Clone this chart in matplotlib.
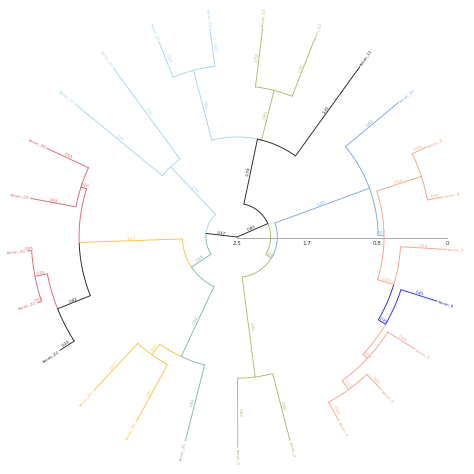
import numpy as np
import matplotlib
matplotlib.use("Agg")
import matplotlib.pyplot as plt

# ---- data ----
leaf_names = [f"taxon_{k}" for k in range(1, 26)]
leaf_colors = ["olive", "olive", "salmon", "salmon", "salmon", "darkblue", "salmon", "salmon", "salmon",
               "blue", "black", "olive", "olive", "lb", "lb", "lb", "lb", "red", "red", "red", "red",
               "black", "yellow", "yellow", "teal"]
# internal nodes: name -> (height, children, colour)
node_names = ["N34", "N345", "NZ", "NY", "N89", "NX", "N10", "N12", "NO", "N1415", "N1213", "NT", "NR",
              "N1617", "N1819", "N2021", "NB", "NYe", "N2324", "NT25", "NTeal", "NL"]
node_heights = [0.25, 0.38, 0.45, 0.55, 0.19, 0.75, 0.82, 0.82, 2.02, 0.45, 0.70, 1.31, 2.10,
                1.35, 0.55, 0.05, 0.20, 0.62, 0.77, 0.93, 1.85, 2.13]
node_children = [["taxon_3", "taxon_4"], ["taxon_5", "N34"], ["taxon_6", "N345"], ["taxon_7", "NZ"],
                 ["taxon_8", "taxon_9"], ["N89", "NY"], ["taxon_10", "NX"], ["taxon_1", "taxon_2"],
                 ["N10", "N12"], ["taxon_14", "taxon_15"], ["taxon_12", "taxon_13"],
                 ["N1415", "N1213", "taxon_11"], ["NT", "NO"],
                 ["taxon_16", "taxon_17"], ["taxon_18", "taxon_19"], ["taxon_20", "taxon_21"],
                 ["N2021", "taxon_22"], ["N1819", "NB"], ["taxon_23", "taxon_24"], ["N2324", "taxon_25"],
                 ["NYe", "NT25"], ["N1617", "NTeal"]]
node_colors = ["salmon", "salmon", "darkblue", "salmon", "salmon", "blue", "blue", "olive", "olive", "lb",
               "olive", "black", "black", "lb", "red", "red", "black", "yellow", "yellow", "teal", "teal",
               "black"]
root_height = 2.5
root_children = ["NL", "NR"]
tick_values = [2.5, 1.667, 0.833, 0.0]
tick_labels = ["2.5", "1.7", "0.8", "0"]

palette = {"olive": "#b3b86e", "salmon": "#f2a48c", "darkblue": "#2a2adb", "blue": "#7ea7e0",
           "black": "#222222", "lb": "#a9d5ec", "red": "#d9646e", "yellow": "#f7c34c", "teal": "#86b5b8"}

SCALE = 84.0
def rad(h):
    return (root_height - h) * SCALE

H, ANG, COL, CH = {}, {}, {}, {}
for i, n in enumerate(leaf_names):
    H[n] = 0.0
    ANG[n] = 270.2 + 14.4 * i
    COL[n] = palette[leaf_colors[i]]
for n, h, c, col in zip(node_names, node_heights, node_children, node_colors):
    H[n] = h; CH[n] = c; COL[n] = palette[col]

def angle(n):
    if n not in ANG:
        ANG[n] = np.mean([angle(c) for c in CH[n]])
    return ANG[n]
for n in node_names:
    angle(n)

fig = plt.figure(figsize=(4.74, 4.74), dpi=100)
ax = fig.add_axes([0, 0, 1, 1])
ax.set_xlim(-237, 237); ax.set_ylim(-237, 237); ax.axis("off")

def pol(r, a):
    t = np.deg2rad(a)
    return r * np.cos(t), r * np.sin(t)

def txt_rot(a):
    a = a % 360
    return a - 180 if 90 < a < 270 else a

LW = 0.65
for p in node_names:
    rp = rad(H[p]); ap = ANG[p]
    for c in CH[p]:
        ac = ANG[c]; rc = rad(H[c]); col = COL[c]
        tt = np.linspace(ap, ac, 40)
        x, y = pol(rp, tt)
        ax.plot(x, y, color=col, lw=LW, solid_capstyle="butt")
        x0, y0 = pol(rp, ac); x1, y1 = pol(rc, ac)
        ax.plot([x0, x1], [y0, y1], color=col, lw=LW)
        mx, my = pol((rp + rc) / 2, ac)
        ax.text(mx, my, f"{H[p]-H[c]:.2f}", fontsize=3, color=col, rotation=txt_rot(ac),
                ha="center", va="bottom", rotation_mode="anchor")

# root
for c in root_children:
    x1, y1 = pol(rad(H[c]), ANG[c])
    ax.plot([0, x1], [0, y1], color=palette["black"], lw=LW)
    ax.text(x1 / 2, y1 / 2, f"{root_height-H[c]:.2f}", fontsize=3, color=palette["black"],
            rotation=txt_rot(ANG[c]), ha="center", va="bottom", rotation_mode="anchor")

# leaf labels
for n in leaf_names:
    a = ANG[n] % 360
    x, y = pol(rad(0) + 1.5, a)
    left = 90 < a < 270
    ax.text(x, y, n, fontsize=3.0, color=COL[n], rotation=txt_rot(a), rotation_mode="anchor",
            ha="right" if left else "left", va="center")

# radial axis
ax.plot([rad(root_height), rad(0)], [-1, -1], color="#aaaaaa", lw=0.7)
for v, l in zip(tick_values, tick_labels):
    ax.text(rad(v), -4, l, fontsize=4, color="#333333", ha="center", va="top")

fig.savefig("out.png", dpi=100)
